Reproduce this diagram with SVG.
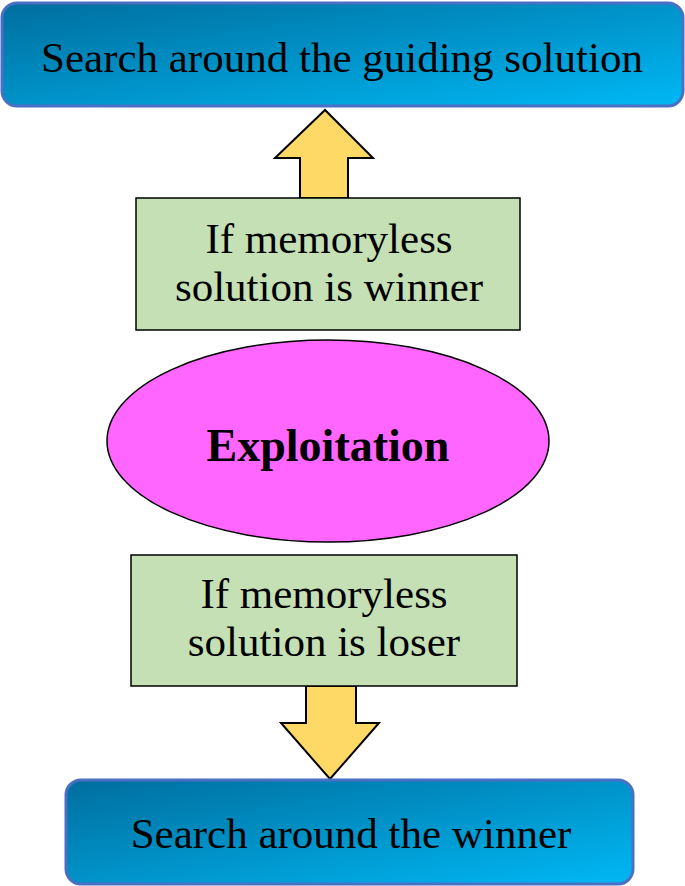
<svg xmlns="http://www.w3.org/2000/svg" width="685" height="886" viewBox="0 0 685 886">
<defs>
<linearGradient id="blue" x1="0" y1="0" x2="1" y2="1">
<stop offset="0" stop-color="#006E9E"/>
<stop offset="1" stop-color="#00B8F4"/>
</linearGradient>
</defs>
<style>
.bluebox{fill:url(#blue);stroke:#4A6FC4;stroke-width:3}
.green{fill:#C5E0B4;stroke:#000;stroke-width:1.5}
.arrow{fill:#FFD966;stroke:#000;stroke-width:2;stroke-linejoin:miter}
text{font-family:"Liberation Serif","Times New Roman",serif;fill:#000;text-anchor:middle}
.big{font-size:43px}
.mid{font-size:43px}
.bold{font-size:46px;font-weight:bold}
</style>
<g id="top-box">
<rect class="bluebox" x="2" y="3" width="681" height="103" rx="15"/>
<text class="big" x="342" y="72">Search around the guiding solution</text>
</g>
<g id="connectors">
<polygon class="arrow" points="300,198 300,158 275,158 325,110 373,158 348,158 348,198"/>
<polygon class="arrow" points="306,686 306,723 281,723 330,779 379,723 356,723 356,686"/>
</g>
<g id="winner-cond">
<rect class="green" x="136" y="198" width="384" height="132"/>
<text class="mid" x="329" y="253">If memoryless</text>
<text class="mid" x="329" y="301">solution is winner</text>
</g>
<g id="exploitation">
<ellipse cx="328" cy="441" rx="221" ry="101" fill="#FF66FF" stroke="#000" stroke-width="1.5"/>
<text class="bold" x="328" y="461">Exploitation</text>
</g>
<g id="loser-cond">
<rect class="green" x="131" y="555" width="386" height="131"/>
<text class="mid" x="324" y="608">If memoryless</text>
<text class="mid" x="324" y="656">solution is loser</text>
</g>
<g id="bottom-box">
<rect class="bluebox" x="66" y="780" width="567" height="104" rx="15"/>
<text class="big" x="351" y="848">Search around the winner</text>
</g>
</svg>
